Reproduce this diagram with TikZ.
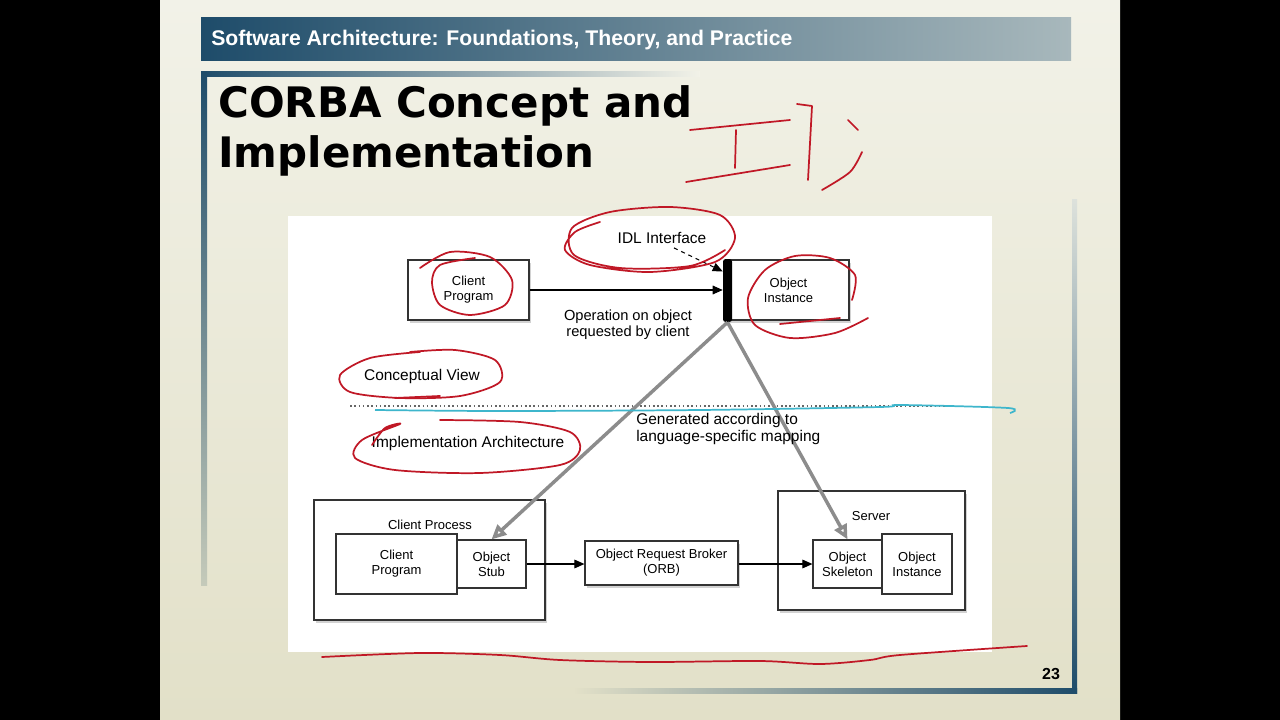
\documentclass[tikz,border=0pt]{standalone}
\usepackage{fontspec}
\setmainfont{Liberation Sans}
\newfontfamily\verd{DejaVu Sans}
\usetikzlibrary{arrows.meta,shadows,calc}

\definecolor{slidetop}{RGB}{242,242,232}
\definecolor{slidebot}{RGB}{226,224,200}
\definecolor{frameblue}{RGB}{30,76,106}
\definecolor{headlight}{RGB}{168,184,188}
\definecolor{inkred}{RGB}{192,24,38}
\definecolor{inkcyan}{RGB}{62,182,204}

\tikzset{
  box/.style={draw=black!80, fill=white, line width=0.9pt, align=center,
    font=\fontsize{9.75}{11.25}\selectfont,
    drop shadow={opacity=0.35, shadow xshift=1.5pt, shadow yshift=-2pt}},
  inbox/.style={draw=black!80, fill=white, line width=0.9pt, align=center,
    font=\fontsize{9.75}{11.25}\selectfont},
  lbl/.style={inner sep=0pt, font=\fontsize{11.6}{13}\selectfont},
  arr/.style={-{Triangle[length=7.5pt,width=6.5pt]}, line width=0.8pt},
  genarr/.style={-{Triangle[open,length=11pt,width=10pt]}, draw=black!45, line width=2.6pt},
  annot/.style={draw=inkred, line width=1.3pt, line cap=round, line join=round},
}

\begin{document}
\begin{tikzpicture}[x=0.75pt,y=0.75pt,yscale=-1,xscale=1]
% screen and slide
\fill[black] (0,0) rectangle (1280,720);
\shade[top color=slidetop, bottom color=slidebot] (160,0) rectangle (1120,720);
\useasboundingbox (0,0) rectangle (1280,720);

% header bar
\shade[left color=frameblue, right color=headlight] (201,18) rectangle (1071,61);
\node[anchor=west, text=white, inner sep=0pt, font=\bfseries\fontsize{15.9}{17}\selectfont] (head) at (211,40) {Software Architecture: Foundations, Theory, and Practice};

% frame
\shade[left color=frameblue, right color=slidetop] (201,72) rectangle (700,77);
\shade[top color=frameblue, bottom color=frameblue!15!slidebot] (201,72) rectangle (207,585);
\shade[top color=frameblue!10!slidetop, bottom color=frameblue] (1072,200) rectangle (1077,693);
\shade[left color=slidebot, right color=frameblue] (575,688) rectangle (1077,693);

% title
\node[anchor=base west, inner sep=0pt, font=\verd\bfseries\fontsize{31.5}{36}\selectfont] (title1) at (218,118) {CORBA Concept and};
\node[anchor=base west, inner sep=0pt, font=\verd\bfseries\fontsize{31.5}{36}\selectfont] (title2) at (218,168) {Implementation};
\node[font=\bfseries\fontsize{12}{14}\selectfont] (pageno) at (1051,674) {23};

% white panel
\fill[white] (288,216) rectangle (992,652);

% conceptual view
\node[box, minimum width=90.75pt, minimum height=45pt] (cprog) at (468.5,290) {Client\\Program};
\node[box, minimum width=90.75pt, minimum height=45pt] (oinst) at (788.5,290) {Object\\Instance};
\node[fill=black, rounded corners=2pt, minimum width=6.75pt, minimum height=47.25pt, inner sep=0pt] (idl) at (727.5,290.5) {};
\node[lbl] (idllab) at (662,238) {IDL Interface};
\node[lbl, align=center, font=\fontsize{11}{12}\selectfont] (oplab) at (628,325) {Operation on object\\requested by client};
\node[lbl] (cview) at (422,376) {Conceptual View};

\draw[arr] (cprog.east) -- (idl.west |- cprog.east);
\draw[arr, dashed] (idllab.south) ++(12,4) -- ($(idl.north west)!0.2!(idl.south west)$);

% divider
\draw[black!60, line width=1.2pt, dotted] (350,406) -- (945,406);

% implementation
\node[box, minimum width=173.25pt, minimum height=90pt] (cproc) at (429.5,560) {};
\node[inner sep=0pt, font=\fontsize{9.75}{11.25}\selectfont] (cproclab) at (430,525) {Client Process};
\node[inbox, minimum width=90.75pt, minimum height=45pt] (cprog2) at (396.5,564) {Client\\Program};
\node[inbox, minimum width=51.75pt, minimum height=36pt] (stub) at (491.5,564) {Object\\Stub};
\node[box, minimum width=114.75pt, minimum height=33pt] (orb) at (661.5,563) {Object Request Broker\\(ORB)};
\node[box, minimum width=140.25pt, minimum height=89.25pt] (server) at (871.5,550.5) {};
\node[inner sep=0pt, font=\fontsize{9.75}{11.25}\selectfont] (serverlab) at (871,516) {Server};
\node[inbox, minimum width=51.75pt, minimum height=36pt] (skel) at (847.5,564) {Object\\Skeleton};
\node[inbox, minimum width=52.5pt, minimum height=45pt] (oinst2) at (917,564) {Object\\Instance};

\draw[arr] (stub.east) -- (orb.west |- stub.east);
\draw[arr] (orb.east |- skel.west) -- (skel.west);

\draw[genarr] (idl.south) -- (stub.north);
\draw[genarr] (idl.south) -- (skel.north);

\node[lbl] (implab) at (468,443) {Implementation Architecture};
\node[lbl, anchor=west, align=left] (genlab) at (636,429) {Generated according to\\language-specific mapping};

% handwritten notes
\draw[annot] plot[smooth] coordinates {(420,268) (450,252) (490,257) (512,280) (505,305) (470,315) (440,305) (432,282) (440,265) (475,258)};
\draw[annot] plot[smooth] coordinates {(600,222) (575,232) (565,250) (590,265) (650,272) (715,262) (735,238) (720,215) (670,207) (610,212) (572,228) (574,255) (620,268) (690,266) (725,250)};
\draw[annot] plot[smooth] coordinates {(852,300) (855,275) (830,258) (795,256) (765,270) (748,298) (755,325) (790,338) (835,333) (868,318)};
\draw[annot] (780,324) -- (840,318);
\draw[annot] plot[smooth] coordinates {(420,352) (370,358) (340,375) (350,392) (400,398) (460,396) (500,382) (495,360) (455,350) (410,352)};
\draw[annot] (395,398) -- (440,396);
\draw[annot] plot[smooth] coordinates {(372,445) (385,428) (400,424) (362,440) (355,458) (395,470) (480,473) (560,465) (580,450) (570,432) (520,422) (440,420)};
\draw[annot] plot[smooth] coordinates {(322,657) (420,653) (500,655) (560,660) (650,662) (760,661) (820,664) (870,660) (900,655) (1027,646)};
\draw[annot] (690,130) -- (790,120);
\draw[annot] (736,130) -- (735,168);
\draw[annot] (686,182) -- (790,165);
\draw[annot] (797,104) -- (812,106) -- (808,180);
\draw[annot] (848,120) -- (858,130);
\draw[annot] plot[smooth] coordinates {(862,152) (850,172) (822,190)};
\draw[inkcyan, line width=1.3pt] plot[smooth] coordinates {(375,410) (500,411) (700,410) (880,407) (900,405) (1008,408) (1010,413)};

\end{tikzpicture}
\end{document}
